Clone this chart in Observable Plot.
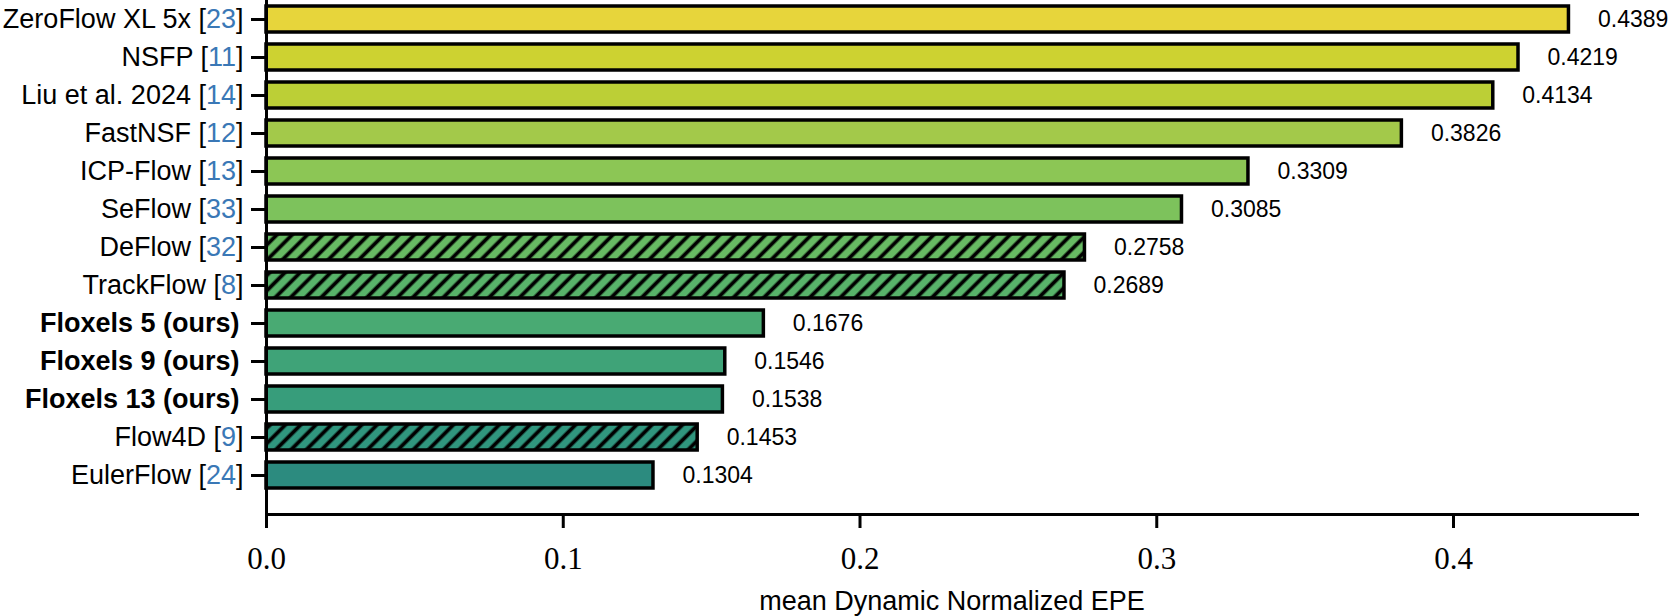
<!DOCTYPE html>
<html>
<head>
<meta charset="utf-8">
<script src="https://cdn.jsdelivr.net/npm/d3@7"></script>
<script src="https://cdn.jsdelivr.net/npm/@observablehq/plot@0.6"></script>
<style>
  html, body { margin: 0; padding: 0; background: #fff; overflow: hidden; }
  #chart svg { display: block; }
</style>
</head>
<body>
<svg width="0" height="0" style="position:absolute">
  <defs>
    <pattern id="hatch" patternUnits="userSpaceOnUse" width="10.8" height="10.8" patternTransform="rotate(45)">
      <line x1="5.4" y1="-2" x2="5.4" y2="13" stroke="black" stroke-width="3.8"></line>
    </pattern>
  </defs>
</svg>
<div id="chart"></div>
<script>
// ---- data ----
const methods = ["ZeroFlow XL 5x", "NSFP", "Liu et al. 2024", "FastNSF", "ICP-Flow", "SeFlow", "DeFlow", "TrackFlow", "Floxels 5 (ours)", "Floxels 9 (ours)", "Floxels 13 (ours)", "Flow4D", "EulerFlow"];
const refs = [23, 11, 14, 12, 13, 33, 32, 8, null, null, null, 9, 24];
const epe = [0.4389, 0.4219, 0.4134, 0.3826, 0.3309, 0.3085, 0.2758, 0.2689, 0.1676, 0.1546, 0.1538, 0.1453, 0.1304];
const hatched = [false, false, false, false, false, false, true, true, false, false, false, true, false];
const xTicks = [0, 0.1, 0.2, 0.3, 0.4];
const xLabel = "mean Dynamic Normalized EPE";

// ---- styling ----
const palette = ["#e7d53b", "#cdd231", "#bccf36", "#a3c94a", "#8cc655", "#7dc25c", "#67ba63", "#58b36a", "#49aa73", "#3fa378", "#379d7b", "#30967e", "#2c8b7f"];
const citeBlue = "#3a78b6";
const sans = "Liberation Sans, Arial, Helvetica, sans-serif";
const serif = "Liberation Serif, Times New Roman, serif";

const rows = methods.map((m, i) => ({method: m, ref: refs[i], value: epe[i], hatched: hatched[i], ours: m.includes("(ours)")}));
const labelOf = new Map(rows.map(d => [d.method, d.ref != null ? `${d.method} [${d.ref}]` : d.method]));

const plot = Plot.plot({
  width: 1668,
  height: 616,
  marginLeft: 266,
  marginRight: 31,
  marginTop: 0,
  marginBottom: 102,
  style: {background: "#fff", color: "black", overflow: "visible"},
  x: {domain: [0, 0.462]},
  y: {domain: methods, range: [0, 494], paddingInner: 0.32, paddingOuter: 0.16},
  color: {domain: methods, range: palette},
  marks: [
    Plot.barX(rows, {x: "value", y: "method", fill: "method"}),
    Plot.barX(rows.filter(d => d.hatched), {x: "value", y: "method", fill: "url(#hatch)"}),
    Plot.barX(rows, {x: "value", y: "method", fill: "none", stroke: "black", strokeWidth: 3.5}),
    Plot.text(rows, {x: "value", y: "method", text: d => d.value.toFixed(4), dx: 29, textAnchor: "start", fontSize: 23, fontFamily: sans, fill: "black"}),
    Plot.frame({anchor: "left", strokeWidth: 3}),
    Plot.frame({anchor: "bottom", strokeWidth: 3}),
    Plot.axisY({tickSize: 15, tickPadding: 8, strokeWidth: 3, fontSize: 27, fontFamily: sans, tickFormat: m => labelOf.get(m), label: null}),
    Plot.axisX({ticks: xTicks, tickFormat: d3.format(".1f"), tickSize: 14, tickPadding: 18, strokeWidth: 3, fontSize: 31, fontFamily: serif, label: null}),
    Plot.text([xLabel], {text: d => d, frameAnchor: "bottom", lineAnchor: "bottom", dy: 95, fontSize: 27, fontFamily: sans, fill: "black"})
  ]
});

// colour the citation numbers and embolden our methods
d3.select(plot).selectAll('g[aria-label="y-axis tick label"] text').each(function() {
  const t = d3.select(this);
  const s = t.text();
  const row = rows.find(d => labelOf.get(d.method) === s);
  if (!row) return;
  if (row.ref != null) {
    t.text(null);
    t.append("tspan").text(`${row.method} [`);
    t.append("tspan").attr("fill", citeBlue).text(String(row.ref));
    t.append("tspan").text("]");
  }
  if (row.ours) t.attr("font-weight", "bold").attr("dx", -4);
});

document.getElementById("chart").appendChild(plot);
</script>
</body>
</html>
